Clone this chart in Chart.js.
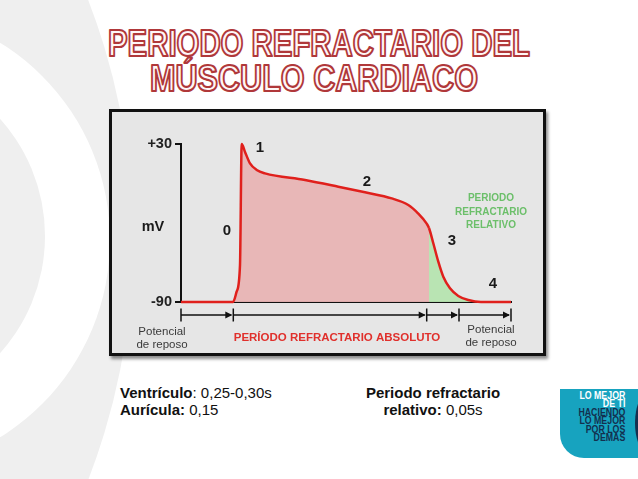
<!DOCTYPE html>
<html><head><meta charset="utf-8">
<script src="https://cdn.jsdelivr.net/npm/chart.js@4.4.1/dist/chart.umd.min.js"></script>
<style>
html,body{margin:0;padding:0;width:638px;height:479px;overflow:hidden;background:#fff;font-family:"Liberation Sans",Arial,sans-serif;}
#bg{position:absolute;left:0;top:0;}
#frame{position:absolute;left:109px;top:109px;width:431px;height:241px;border:3px solid #111;background:#e6e6e6;box-shadow:2px 3px 3px rgba(0,0,0,0.45);}
#wrap{position:absolute;left:110px;top:110px;width:435px;height:245px;}
.txt{position:absolute;font-size:15px;color:#111;line-height:17px;white-space:nowrap;}
#logo{position:absolute;left:560px;top:389px;width:78px;height:69px;background:#17a3bf;border-bottom-left-radius:24px;overflow:hidden;}
#logo .nv{position:absolute;left:75px;top:5px;width:24px;height:58px;border-radius:50%;background:#17304f;}
#logo .t{position:absolute;right:13px;top:3px;text-align:right;font-family:"Liberation Sans",Arial;font-weight:bold;font-size:10px;line-height:8.4px;color:#13304f;transform:scaleX(0.88);transform-origin:right top;white-space:nowrap;}
#logo .w{color:#fff;}
</style></head>
<body>
<svg id="bg" width="638" height="479">
  <circle cx="-532" cy="240" r="665" fill="#efefef"/>
  <circle cx="-122" cy="240" r="232" fill="#ffffff"/>
  <circle cx="-130" cy="236" r="175" fill="#efefef"/>
  <g font-family="Liberation Sans, Arial" font-weight="bold" font-size="37" fill="#fff6f6" stroke="#b0383a" stroke-width="2.2" stroke-linejoin="round">
    <text x="108" y="56" textLength="422" lengthAdjust="spacingAndGlyphs">PERIODO REFRACTARIO DEL</text>
    <text x="150" y="91" textLength="328" lengthAdjust="spacingAndGlyphs">MÚSCULO CARDIACO</text>
  </g>
</svg>
<div id="frame"></div>
<div id="wrap"><canvas id="c"></canvas></div>
<div class="txt" style="left:120px;top:384px;"><b>Ventrículo</b>: 0,25-0,30s<br><b>Aurícula:</b> 0,15</div>
<div class="txt" style="left:333px;top:384px;width:200px;text-align:center;"><b>Periodo refractario</b><br><b>relativo:</b> 0,05s</div>
<div id="logo"><div class="nv"></div><div class="t"><span class="w">LO MEJOR<br>DE TI</span><br>HACIENDO<br>LO MEJOR<br>POR LOS<br>DEMAS</div></div>
<script>
// ---- data (time in arbitrary units, membrane potential in mV) ----
const timeValues = [0, 52, 55.7, 59, 60.7, 64, 69, 75.7, 84, 124, 157.3, 184, 210.7, 227.3, 237, 245.7, 248, 252.3, 257.3, 262.3, 269, 277.3, 287.3, 300, 330];
const mVValues   = [-90, -90, -82, -62, 30, 24, 15.3, 10.3, 7.7, 2.7, -2.4, -6.7, -11.3, -16.3, -22.6, -30.5, -33.8, -45.4, -59.4, -70.8, -79.6, -85.4, -88.5, -90, -90];
const yTickValues = [-90, 30];
const relativeStart = 248;              // start of relative refractory period
const periodBounds = [0, 52.3, 245.7, 278, 330];
const phaseLabels = ['0', '1', '2', '3', '4'];
const phaseX = [46, 79, 186, 271, 312];
const phaseY = [-36, 26.7, 0.9, -43.7, -76.6];
const relLabelLines = ['PERIODO', 'REFRACTARIO', 'RELATIVO'];
const relLabelX = 310;
const relLabelY = [-11.2, -21.9, -31.5];

const pinkFill = 'rgba(232,180,180,0.95)';
const greenFill = 'rgba(182,228,176,0.95)';
const FONT = '"Liberation Sans", Arial, sans-serif';

const annot = {
  id: 'annot',
  afterDraw(chart) {
    const {ctx, scales: {x, y}, chartArea} = chart;
    ctx.save();
    ctx.fillStyle = '#1a1a1a';
    ctx.font = 'bold 15px ' + FONT;
    ctx.textAlign = 'center';
    ctx.textBaseline = 'middle';
    phaseLabels.forEach((t, i) => ctx.fillText(t, x.getPixelForValue(phaseX[i]), y.getPixelForValue(phaseY[i])));
    ctx.font = 'bold 14.5px ' + FONT;
    ctx.fillText('mV', x.getPixelForValue(-28), y.getPixelForValue(-33));
    ctx.fillStyle = '#6cbf6a';
    ctx.font = 'bold 10px ' + FONT;
    relLabelLines.forEach((t, i) => ctx.fillText(t, x.getPixelForValue(relLabelX), y.getPixelForValue(relLabelY[i])));
    const ay = chartArea.bottom + 13;
    ctx.strokeStyle = '#111';
    ctx.fillStyle = '#111';
    ctx.lineWidth = 1.5;
    const px = periodBounds.map(v => x.getPixelForValue(v));
    px.forEach(p => { ctx.beginPath(); ctx.moveTo(p, ay - 6.5); ctx.lineTo(p, ay + 6.5); ctx.stroke(); });
    for (let i = 0; i < px.length - 1; i++) {
      ctx.beginPath(); ctx.moveTo(px[i], ay); ctx.lineTo(px[i + 1] - 2, ay); ctx.stroke();
      ctx.beginPath(); ctx.moveTo(px[i + 1] - 1, ay); ctx.lineTo(px[i + 1] - 8, ay - 3.5); ctx.lineTo(px[i + 1] - 8, ay + 3.5); ctx.closePath(); ctx.fill();
    }
    ctx.fillStyle = '#3a3a3a';
    ctx.font = '11.5px ' + FONT;
    ctx.fillText('Potencial', x.getPixelForValue(-19), chartArea.bottom + 30);
    ctx.fillText('de reposo', x.getPixelForValue(-19), chartArea.bottom + 42.5);
    ctx.fillText('Potencial', x.getPixelForValue(310), chartArea.bottom + 28);
    ctx.fillText('de reposo', x.getPixelForValue(310), chartArea.bottom + 41);
    ctx.fillStyle = '#e0302c';
    ctx.font = 'bold 11.5px ' + FONT;
    ctx.fillText('PERÍODO REFRACTARIO ABSOLUTO', x.getPixelForValue(156), chartArea.bottom + 36);
    ctx.restore();
  }
};

new Chart(document.getElementById('c'), {
  type: 'line',
  data: {
    datasets: [{
      data: timeValues.map((t, i) => ({x: t, y: mVValues[i]})),
      borderColor: '#e0201c',
      borderWidth: 2.5,
      pointRadius: 0,
      cubicInterpolationMode: 'monotone',
      fill: {value: -90},
      backgroundColor: pinkFill,
      segment: { backgroundColor: c => c.p0.parsed.x >= relativeStart ? greenFill : pinkFill },
      clip: false
    }]
  },
  options: {
    responsive: true,
    maintainAspectRatio: false,
    animation: false,
    layout: {padding: {top: 34, right: 34, left: 0, bottom: 0}},
    plugins: {legend: {display: false}, tooltip: {enabled: false}},
    scales: {
      x: {
        type: 'linear', min: 0, max: 330,
        ticks: {display: false},
        grid: {display: false},
        border: {display: true, color: '#111', width: 2},
        afterFit: s => { s.height = 53; }
      },
      y: {
        min: -90, max: 30,
        afterBuildTicks: s => { s.ticks = yTickValues.map(v => ({value: v})); },
        ticks: {
          color: '#222', padding: 3,
          font: {family: FONT, size: 14.5, weight: 'bold'},
          callback: v => (v > 0 ? '+' + v : String(v))
        },
        grid: {drawOnChartArea: false, drawTicks: true, tickLength: 6, color: '#111', lineWidth: 2},
        border: {display: true, color: '#111', width: 2},
        afterFit: s => { s.width = 71; }
      }
    }
  },
  plugins: [annot]
});
</script>
</body></html>
